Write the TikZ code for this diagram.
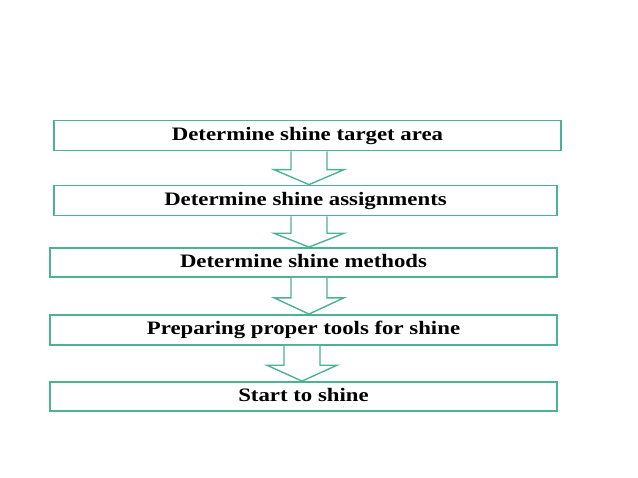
\documentclass[tikz,border=0pt]{standalone}
\usepackage{fontspec}
\setmainfont{Liberation Serif}
\usetikzlibrary{calc, shadows}
\definecolor{boxteal}{RGB}{76,178,150}
\newcommand\wide[1]{\scalebox{1.2}[1]{#1}}
\newcommand\blkarrow[3]{% upper node, lower node, x of the arrow
  \draw[blockarrow] let \p1=(#1.south), \p2=(#2.north) in
    (#3-18,\y1) -- (#3-18,{\y1+0.55*(\y2-\y1)}) -- (#3-35,{\y1+0.55*(\y2-\y1)})
    -- (#3,\y2) -- (#3+35,{\y1+0.55*(\y2-\y1)}) -- (#3+18,{\y1+0.55*(\y2-\y1)})
    -- (#3+18,\y1);
}
\begin{document}
\begin{tikzpicture}[x=1pt, y=-1pt,
    stepbox/.style={draw=boxteal, line width=1.8pt, fill=white, minimum width=507pt,
      minimum height=30pt, inner sep=0pt, text height=12pt, text depth=2pt,
      font=\fontsize{19}{21}\selectfont\bfseries,
      drop shadow={shadow xshift=0.8pt, shadow yshift=-1pt, opacity=0.3}},
    blockarrow/.style={draw=boxteal, line width=1.4pt, fill=white, line join=miter}]
  \useasboundingbox (0,0) rectangle (638,478);
  % the five steps
  \node[stepbox] (target) at (307.5,135.5) {\wide{Determine shine target area}};
  \node[stepbox, minimum width=503pt] (assign) at (305.5,200.5) {\wide{Determine shine assignments}};
  \node[stepbox, minimum height=29pt] (method) at (303.5,262.5) {\wide{Determine shine methods}};
  \node[stepbox] (tools) at (303.5,330) {\wide{Preparing proper tools for shine}};
  \node[stepbox, minimum height=29pt] (start) at (303.5,396.5) {\wide{Start to shine}};
  % hollow arrows between them
  \blkarrow{target}{assign}{309}
  \blkarrow{assign}{method}{309}
  \blkarrow{method}{tools}{309}
  \blkarrow{tools}{start}{302}
\end{tikzpicture}
\end{document}
